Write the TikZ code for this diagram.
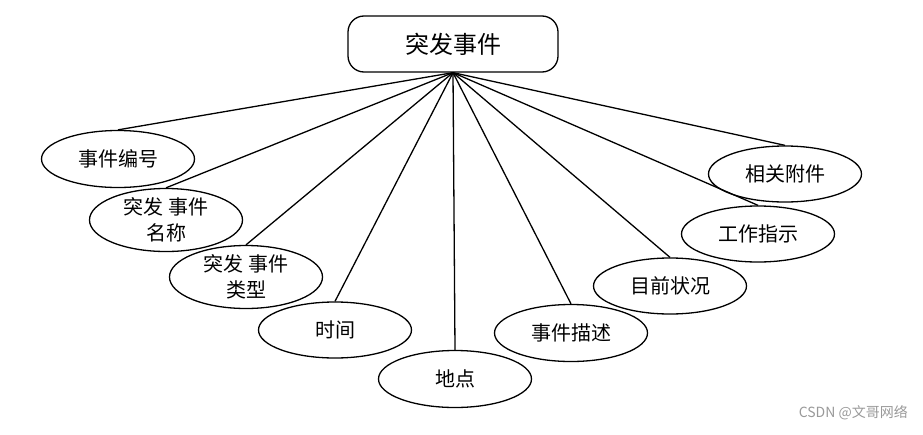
\documentclass[tikz,border=0pt]{standalone}
\usepackage{fontspec}
\newfontfamily\cjk{Noto Sans CJK SC}
\usetikzlibrary{shapes.geometric}
\begin{document}
\begin{tikzpicture}[x=1pt,y=-1pt,
  attr/.style={draw,line width=1.3pt,ellipse,minimum width=153pt,minimum height=57pt,inner sep=0pt,font=\cjk\fontsize{20}{26}\selectfont,align=center},
  root/.style={draw,line width=1.3pt,rounded corners=16pt,minimum width=210pt,minimum height=56pt,font=\cjk\fontsize{24}{26}\selectfont},
  link/.style={line width=1.3pt}]
\useasboundingbox (0,0) rectangle (923,434);
\node[root] (r) at (453,44) {突发事件};
\coordinate (apex) at (r.south);
\node[attr] (a1) at (118,159) {事件编号};
\node[attr,minimum height=58pt] (a2) at (166,220) {突发 事件\\名称};
\node[attr,minimum height=56pt] (a3) at (246,277) {突发 事件\\类型};
\node[attr,minimum height=56pt] (a4) at (335,330) {时间};
\node[attr] (a5) at (455,379) {地点};
\node[attr] (a6) at (571,333) {事件描述};
\node[attr,minimum height=56pt] (a7) at (670,286) {目前状况};
\node[attr,minimum height=56pt] (a8) at (758,234) {工作指示};
\node[attr,minimum height=56pt] (a9) at (785,174) {相关附件};
\foreach \i in {1,...,9} \draw[link] (apex) -- (a\i.north);
\node[font=\cjk\fontsize{14}{16}\selectfont,text=black!40,anchor=east,inner sep=0pt] (wm) at (908,413) {CSDN @文哥网络};
\end{tikzpicture}
\end{document}
